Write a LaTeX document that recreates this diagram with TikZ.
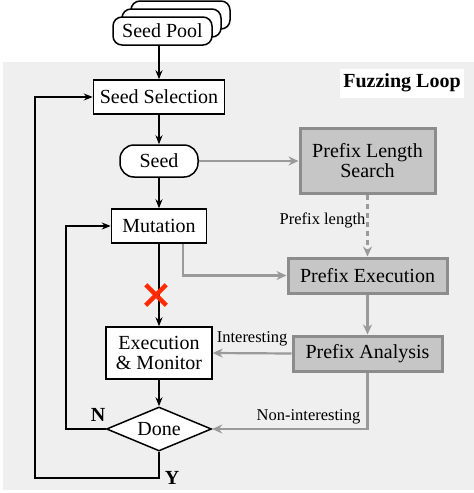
\documentclass[tikz,border=0pt]{standalone}
\usepackage{fontspec}
\setmainfont{Liberation Serif}
\usetikzlibrary{shapes, shapes.geometric, shapes.misc, positioning, arrows.meta}

\definecolor{loopbg}{HTML}{EFEFEF}
\definecolor{boxgray}{HTML}{C6C6C6}
\definecolor{edgegray}{HTML}{8C8C8C}
\definecolor{linegray}{HTML}{9A9A9A}
\definecolor{failred}{HTML}{FF2A00}

\begin{document}
\begin{tikzpicture}[x=1pt, y=-1pt, >={Stealth[length=9pt, width=7pt]}, line width=1.5pt,
  font=\fontsize{20}{21}\selectfont]
\tikzstyle{box}=[draw=black, line width=1.5pt, rectangle, fill=white, inner sep=0pt]
\tikzstyle{rbox}=[box, rounded corners=9pt]
\tikzstyle{gbox}=[draw=edgegray, line width=3pt, rectangle, fill=boxgray, inner sep=0pt, align=center]
\tikzstyle{garrow}=[->, draw=linegray, line width=2.2pt, >={Stealth[length=10pt, width=9pt]}]
\tikzstyle{lbl}=[font=\fontsize{16.5}{18}\selectfont, inner sep=1pt]

\useasboundingbox (0,0) rectangle (474,493);
\fill[loopbg] (3,62) rectangle (474,490);
\node[fill=white, minimum width=123pt, minimum height=29pt, font=\fontsize{20}{21}\selectfont\bfseries] (title) at (402,83) {Fuzzing Loop};

% seed pool (stacked)
\node[rbox, minimum width=99pt, minimum height=28pt]    (pool3) at (180.5,15) {};
\node[rbox, minimum width=99pt, minimum height=28pt]    (pool2) at (171.5,23) {};
\node[rbox, minimum width=99pt, minimum height=28pt]    (pool)  at (162.5,31) {Seed Pool};

% main flow
\node[box, minimum width=131pt, minimum height=34pt]   (sel)  at (159,97)  {Seed Selection};
\node[rbox, rounded corners=14pt, minimum width=78pt, minimum height=32pt] (seed) at (159,161) {Seed};
\node[box, minimum width=95pt, minimum height=34pt]    (mut)  at (159,226) {Mutation};
\node[box, minimum width=106pt, minimum height=52pt, align=center] (exec) at (159,353) {Execution\\[-1pt]\& Monitor};
\node[draw=black, line width=1.5pt, diamond, aspect=2.4, inner sep=0pt, fill=white,
      minimum width=105pt, minimum height=44pt] (done) at (159,429) {Done};

% prefix side
\node[gbox, minimum width=135pt, minimum height=65pt]  (pls) at (367.5,160.5) {Prefix Length\\[-1pt]Search};
\node[gbox, minimum width=159pt, minimum height=35pt]  (pe)  at (367.5,275.5) {Prefix Execution};
\node[gbox, minimum width=149pt, minimum height=35pt]  (pa)  at (367.5,353.5) {Prefix Analysis};

\coordinate (nturn) at (66,429);
\coordinate (yturn) at (35,478);

\draw[->] (sel.north |- pool.south) -- (sel);
\draw[->] (sel) -- (seed);
\draw[->] (seed) -- (mut);
\draw[->] (mut) -- (exec);
\draw[->] (exec) -- (done);
\draw[->] (done.west) -- (nturn) |- (mut.west);
\draw[->] (done.south) |- (yturn) |- (sel.west);
\node[font=\fontsize{20}{21}\selectfont\bfseries, inner sep=0pt] (nlbl) at (98,415) {N};
\node[font=\fontsize{20}{21}\selectfont\bfseries, inner sep=0pt] (ylbl) at (172,478) {Y};

\node[cross out, draw=failred, line width=4.5pt, minimum size=16pt, inner sep=0pt] (fail) at (156,295) {};

\draw[garrow] (seed.east) -- (seed.east -| pls.west);
\draw[garrow, dashed, dash pattern=on 5pt off 4pt] (pls) -- node[lbl, left, pos=0.42] {Prefix length} (pe);
\draw[garrow] ([xshift=24pt]mut.south) |- (pe.west);
\draw[garrow] (pe) -- (pa);
\draw[garrow] (pa.west) -- node[lbl, above=5pt] {Interesting} (exec.east);
\draw[garrow] (pa.south) |- node[lbl, above=3pt, pos=0.69] {Non-interesting} (done.east);

\end{tikzpicture}
\end{document}
